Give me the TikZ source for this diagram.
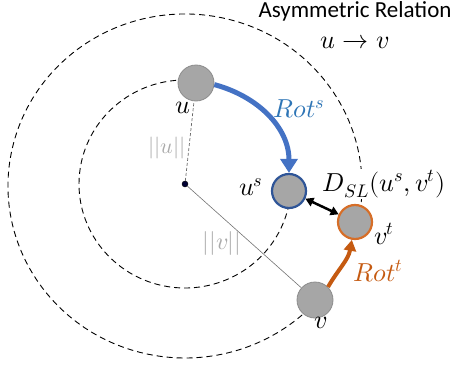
\documentclass[tikz,border=0pt]{standalone}
\usepackage{fontspec}
\usepackage{unicode-math}
\setmainfont{Carlito}
\usetikzlibrary{arrows.meta,positioning}

\definecolor{rotblue}{RGB}{68,114,196}
\definecolor{rotbluetext}{RGB}{46,117,182}
\definecolor{ringblue}{RGB}{47,85,151}
\definecolor{rotorange}{RGB}{197,90,17}
\definecolor{ringorange}{RGB}{214,110,40}
\definecolor{embgray}{RGB}{166,166,166}
\definecolor{embline}{RGB}{140,140,140}
\definecolor{normgray}{RGB}{170,170,170}

\tikzset{
    emb/.style={circle, fill=embgray, draw=embline, line width=0.8pt, minimum size=36pt, inner sep=0pt},
    orbit/.style={dash pattern=on 6pt off 4pt, line width=0.9pt},
    mlabel/.style={font=\fontsize{26}{26}\selectfont, inner sep=0pt},
}

\begin{document}
\begin{tikzpicture}[x=1pt, y=-1pt]
        \useasboundingbox (0,0) rectangle (474,380);
        \coordinate (o) at (185,184);

        % orbits of the two norms
        \draw[orbit] (o) ++(-84:106 and 104) arc[start angle=-84, end angle=-356, x radius=106, y radius=104];
        \draw[orbit] (185,186) ++(12:177 and 172) arc[start angle=12, end angle=-318, x radius=177, y radius=172];

        \node[circle, fill=black!80!blue, draw=black, inner sep=0pt, minimum size=6pt] (c) at (o) {};

        % embeddings
        \node[emb] (u) at (196,83) {};
        \node[emb] (v) at (315,300) {};
        \node[emb, draw=ringblue, line width=2.2pt, minimum size=34pt] (us) at (289,191) {};
        \node[emb, draw=ringorange, line width=2.2pt, minimum size=34pt] (vt) at (355,222) {};
        \draw[densely dashed, black!60, line width=0.7pt] (c) -- (u);
        \draw[black!55, line width=0.6pt] (c) -- (v);

        % rotations and distance
        \draw[-{Triangle[length=14pt,width=17pt]}, rotblue, line width=5pt] (u.-5) to[out=-15, in=90] (us.north);
        \draw[-{Triangle[length=11pt,width=12pt]}, rotorange, line width=4pt] (v.45) to[out=60, in=-100] (vt.-100);
        \draw[{Triangle[length=8pt,width=9pt]}-{Triangle[length=8pt,width=9pt]}, line width=2.5pt] (us) -- (vt);

        % labels
        \node[font=\fontsize{23}{23}\selectfont] (title) at (355,11) {Asymmetric Relation};
        \node[mlabel] (rel) at (355,42) {$u\rightarrow v$};
        \node[mlabel] (ulbl) at (183,108) {$u$};
        \node[mlabel] (vlbl) at (321,323) {$v$};
        \node[mlabel] (uslbl) at (251,187) {$u^{s}$};
        \node[mlabel] (vtlbl) at (384,234) {$v^{t}$};
        \node[mlabel, fill=white, inner sep=1pt] (dist) at (384,184) {$D_{SL}(u^{s},v^{t})$};
        \node[mlabel, text=rotbluetext] (rots) at (299,109) {$Rot^{s}$};
        \node[mlabel, text=rotorange] (rott) at (378,271) {$Rot^{t}$};
        \node[mlabel, text=normgray, font=\fontsize{22}{22}\selectfont] (unorm) at (167,148) {$||u||$};
        \node[mlabel, text=normgray, font=\fontsize{24}{24}\selectfont] (vnorm) at (222,243) {$||v||$};
    \end{tikzpicture}
\end{document}
